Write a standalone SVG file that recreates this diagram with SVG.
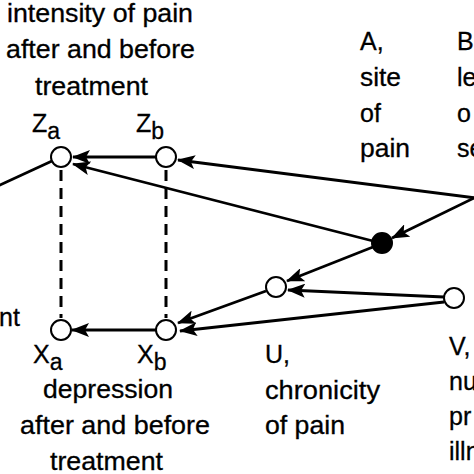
<svg xmlns="http://www.w3.org/2000/svg" width="474" height="474" viewBox="0 0 474 474">
  <style>
    .t { font-family: "Liberation Sans", Arial, sans-serif; font-size: 25px; fill: #000; stroke: #000; stroke-width: 0.3; }
    .sub { font-size: 23px; }
    .node { fill: #fff; stroke: #000; stroke-width: 2; }
    .fill { fill: #000; stroke: #000; stroke-width: 2; }
    .edge { stroke: #000; stroke-width: 2.8; fill: none; }
    .arr { marker-end: url(#ah); }
    .dash { stroke: #000; stroke-width: 3; stroke-dasharray: 11 7; fill: none; }
  </style>
  <defs>
    <marker id="ah" viewBox="0 0 18 14" refX="17" refY="7" markerWidth="18" markerHeight="14" markerUnits="userSpaceOnUse" orient="auto">
      <path d="M0,0 L18,7 L0,14 L4,7 Z" fill="#000"/>
    </marker>
  </defs>
  <rect width="474" height="474" fill="#fff"/>

  <g id="connectors">
    <line class="edge" x1="-2" y1="186" x2="52" y2="161"/>
    <line class="edge arr" x1="156" y1="157" x2="73" y2="157"/>
    <line class="edge arr" x1="476" y1="198" x2="178" y2="160"/>
    <line class="edge arr" x1="373" y1="241" x2="73" y2="164"/>
    <line class="edge arr" x1="476" y1="197" x2="392" y2="238"/>
    <line class="edge arr" x1="373" y1="247" x2="287" y2="281"/>
    <line class="edge arr" x1="444" y1="297" x2="288" y2="290"/>
    <line class="edge arr" x1="266" y1="291" x2="178" y2="323"/>
    <line class="edge arr" x1="444" y1="302" x2="180" y2="331"/>
    <line class="edge arr" x1="156" y1="330" x2="72" y2="330"/>
    <line class="dash" x1="61" y1="170" x2="61" y2="318"/>
    <line class="dash" x1="166" y1="170" x2="166" y2="318"/>
  </g>

  <g id="title-z">
    <text class="t" x="7" y="22" textLength="186" lengthAdjust="spacingAndGlyphs">intensity of pain</text>
    <text class="t" x="6" y="58" textLength="189" lengthAdjust="spacingAndGlyphs">after and before</text>
    <text class="t" x="35" y="95" textLength="113" lengthAdjust="spacingAndGlyphs">treatment</text>
  </g>

  <g id="Za">
    <circle class="node" cx="61" cy="157" r="10"/>
    <text class="t" x="32" y="132">Z<tspan class="sub" dy="7">a</tspan></text>
  </g>
  <g id="Zb">
    <circle class="node" cx="166" cy="157" r="10"/>
    <text class="t" x="136" y="132">Z<tspan class="sub" dy="7">b</tspan></text>
  </g>
  <g id="Xa">
    <circle class="node" cx="61" cy="330" r="10"/>
    <text class="t" x="33" y="363">X<tspan class="sub" dy="7">a</tspan></text>
  </g>
  <g id="Xb">
    <circle class="node" cx="166" cy="330" r="10"/>
    <text class="t" x="137" y="363">X<tspan class="sub" dy="7">b</tspan></text>
  </g>
  <g id="title-x">
    <text class="t" x="43" y="398" textLength="130" lengthAdjust="spacingAndGlyphs">depression</text>
    <text class="t" x="20" y="434" textLength="190" lengthAdjust="spacingAndGlyphs">after and before</text>
    <text class="t" x="50" y="470" textLength="113" lengthAdjust="spacingAndGlyphs">treatment</text>
  </g>

  <g id="mediator">
    <circle class="fill" cx="382" cy="243" r="10"/>
  </g>
  <g id="U">
    <circle class="node" cx="276" cy="287" r="10"/>
    <text class="t" x="265" y="363">U,</text>
    <text class="t" x="265" y="399" textLength="115" lengthAdjust="spacingAndGlyphs">chronicity</text>
    <text class="t" x="265" y="434" textLength="80" lengthAdjust="spacingAndGlyphs">of pain</text>
  </g>
  <g id="V">
    <circle class="node" cx="454" cy="298" r="10"/>
    <text class="t" x="449" y="355">V,</text>
    <text class="t" x="449" y="390">nu</text>
    <text class="t" x="449" y="425">pr</text>
    <text class="t" x="449" y="460">illn</text>
  </g>
  <g id="A">
    <text class="t" x="360" y="50">A,</text>
    <text class="t" x="360" y="86" textLength="41" lengthAdjust="spacingAndGlyphs">site</text>
    <text class="t" x="360" y="122">of</text>
    <text class="t" x="360" y="157" textLength="50" lengthAdjust="spacingAndGlyphs">pain</text>
  </g>
  <g id="B">
    <text class="t" x="457" y="50">B</text>
    <text class="t" x="457" y="86">le</text>
    <text class="t" x="457" y="122">o</text>
    <text class="t" x="457" y="157">se</text>
  </g>
  <g id="left-label">
    <text class="t" x="-1" y="326">nt</text>
  </g>
</svg>
